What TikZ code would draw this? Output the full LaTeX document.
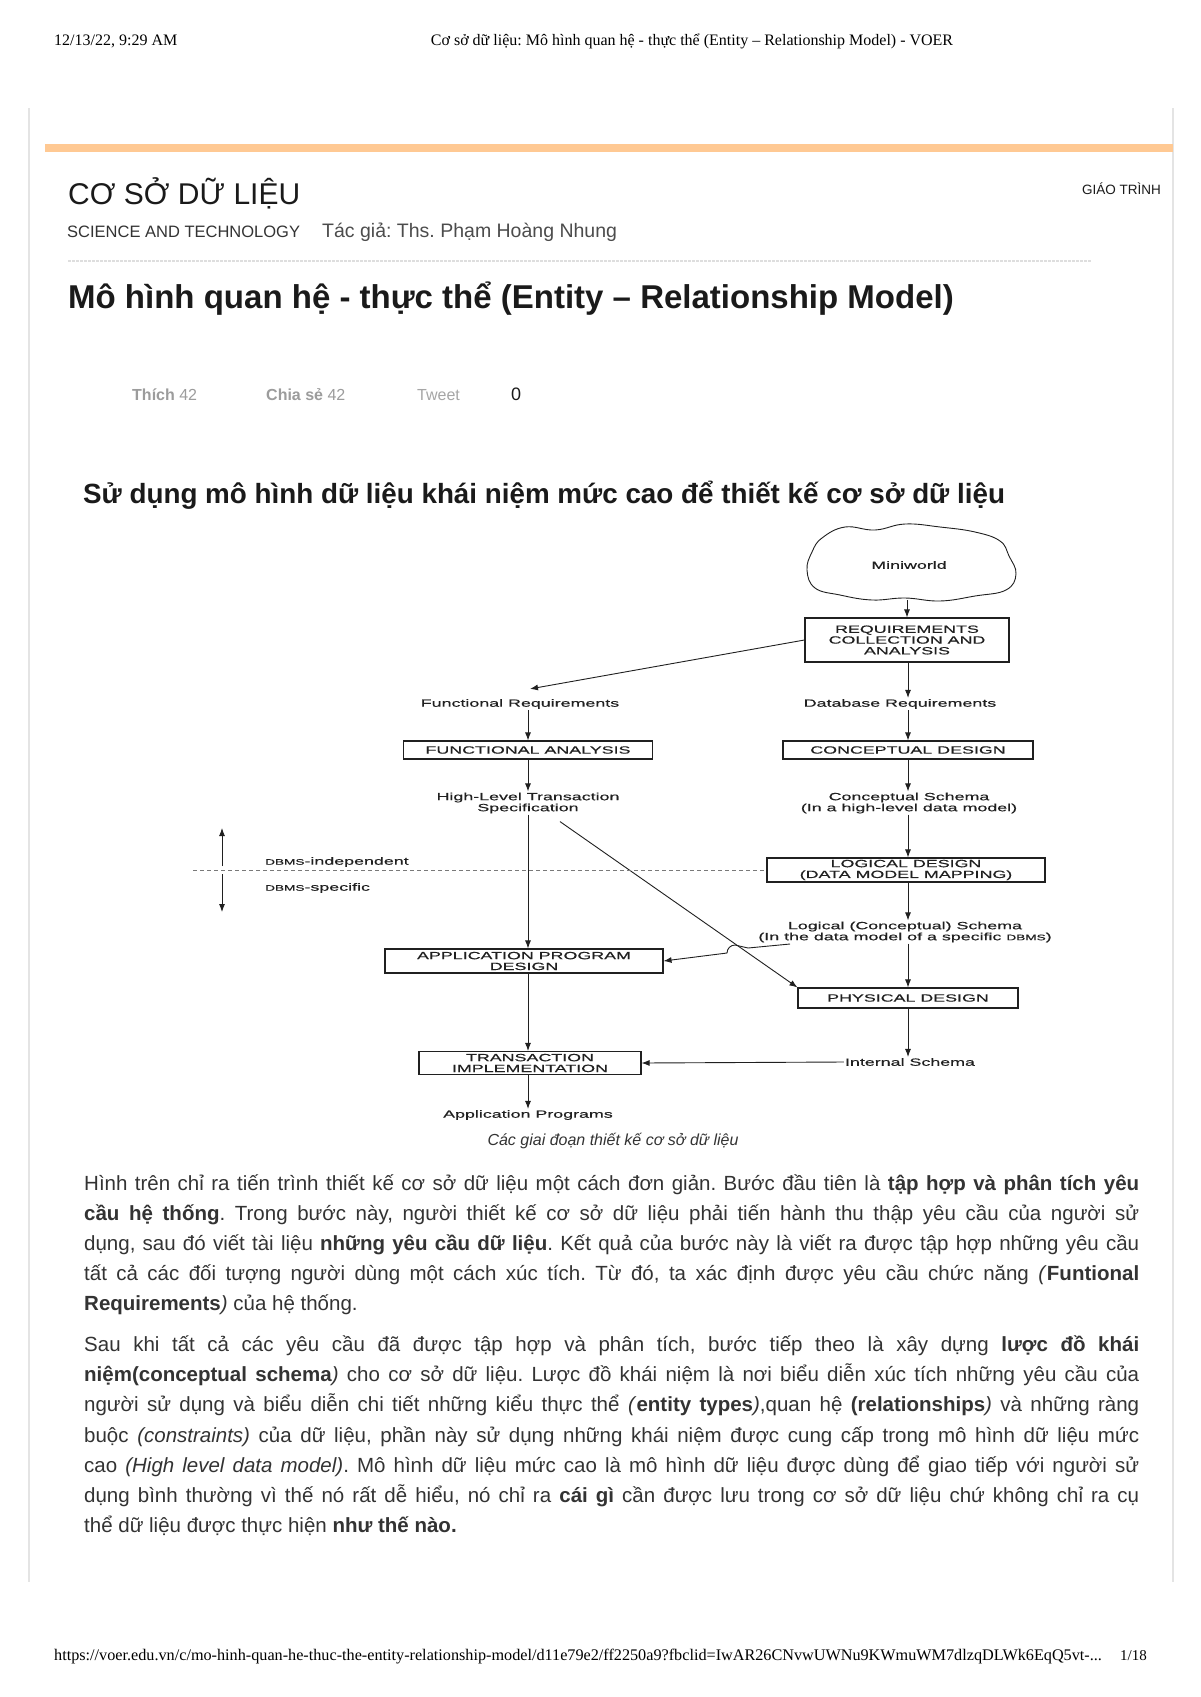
\documentclass[tikz,border=0pt]{standalone}
\usepackage{fontspec}
\setmainfont{Liberation Sans}
\newfontfamily\headfont{Liberation Serif}
\newfontfamily\diagfont[FakeStretch=1.7,FakeBold=0.4]{Liberation Sans}
\usetikzlibrary{arrows.meta,positioning}

\definecolor{pagetext}{HTML}{333333}
\definecolor{darktext}{HTML}{1A1A1A}
\definecolor{peach}{HTML}{FFC993}
\definecolor{framegray}{HTML}{E4E4E4}
\definecolor{likegray}{HTML}{9C9C9C}
\definecolor{scan}{HTML}{202020}

\begin{document}
\frenchspacing
\begin{tikzpicture}[x=1pt, y=-1pt, >=Latex,
  txt/.style={inner sep=0, text=pagetext},
  dbox/.style={draw=scan, line width=1.1pt, inner sep=0, align=center, text=scan,
    font=\diagfont\fontsize{10.5}{10.8}\selectfont},
  dlabel/.style={inner sep=1pt, align=center, text=scan,
    font=\diagfont\fontsize{10.5}{11}\selectfont},
  arr/.style={-{Latex[length=8pt,width=6pt]}, draw=scan, line width=0.9pt}]
\useasboundingbox (0,0) rectangle (1200,1697);
\fill[white] (0,0) rectangle (1200,1697);

% browser header and footer
\node[txt, anchor=base west, text=black, font=\headfont\fontsize{16}{19}\selectfont] (date) at (54,45) {12/13/22, 9:29 AM};
\node[txt, anchor=base, text=black, font=\headfont\fontsize{16}{19}\selectfont] (tab) at (692,45)
  {Cơ sở dữ liệu: Mô hình quan hệ - thực thể (Entity – Relationship Model) - VOER};
\node[txt, anchor=base west, text=black, font=\headfont\fontsize{16.2}{19}\selectfont] (url) at (54,1660)
  {https://voer.edu.vn/c/mo-hinh-quan-he-thuc-the-entity-relationship-model/d11e79e2/ff2250a9?fbclid=IwAR26CNvwUWNu9KWmuWM7dlzqDLWk6EqQ5vt-...};
\node[txt, anchor=base east, text=black, font=\headfont\fontsize{15}{18}\selectfont] (pageno) at (1147,1660) {1/18};

% page frame
\draw[framegray, line width=1.5pt] (29,108) -- (29,1582);
\draw[framegray, line width=1.5pt] (1173,108) -- (1173,1582);
\fill[peach] (45,144) rectangle (1173,152);

% site heading
\node[txt, anchor=base west, text=darktext, font=\fontsize{30}{36}\selectfont] (site) at (68,204) {CƠ SỞ DỮ LIỆU};
\node[txt, anchor=base east, text=darktext, font=\fontsize{13.5}{16}\selectfont] (kind) at (1161,194) {GIÁO TRÌNH};
\node[txt, anchor=base west, font=\fontsize{16.5}{20}\selectfont] (field) at (67,237) {SCIENCE AND TECHNOLOGY};
\node[txt, anchor=base west, text=black!70, font=\fontsize{19.5}{23}\selectfont] (author) at (322,237) {Tác giả: Ths. Phạm Hoàng Nhung};
\draw[black!13, line width=1.5pt, dash pattern=on 3pt off 1pt] (68,261) -- (1091,261);
\node[txt, anchor=base west, text=darktext, font=\bfseries\fontsize{33}{40}\selectfont] (title) at (68,308)
  {Mô hình quan hệ - thực thể (Entity – Relationship Model)};

% share row
\node[txt, anchor=base west, text=likegray, font=\fontsize{16}{19}\selectfont] (like) at (132,400) {\textbf{Thích} 42};
\node[txt, anchor=base west, text=likegray, font=\fontsize{16}{19}\selectfont] (share) at (266,400) {\textbf{Chia sẻ} 42};
\node[txt, anchor=base west, text=black!35, font=\fontsize{16}{19}\selectfont] (tweet) at (417,400) {Tweet};
\node[txt, anchor=base west, text=darktext, font=\fontsize{18}{21}\selectfont] (count) at (511,400) {0};

\node[txt, anchor=base west, text=darktext, font=\bfseries\fontsize{27.8}{34}\selectfont] (sub) at (83,503)
  {Sử dụng mô hình dữ liệu khái niệm mức cao để thiết kế cơ sở dữ liệu};

% diagram
\draw[scan, line width=0.9pt] plot[smooth cycle, tension=0.7] coordinates {(822,538) (845,527) (875,530) (905,524) (940,527) (975,532) (1000,541) (1009,556) (1016,574) (1006,590) (975,596) (940,601) (905,598) (872,600) (840,595) (815,588) (807,570) (812,552)};
\node[dlabel] (mini) at (909,565) {Miniworld};
\coordinate (cloudS) at (907,600);

\node[dbox, minimum width=204, minimum height=44] (req) at (907,640) {REQUIREMENTS\\COLLECTION AND\\ANALYSIS};
\node[dlabel] (fr) at (520,704) {Functional Requirements};
\node[dlabel] (dr) at (900,704) {Database Requirements};
\node[dbox, minimum width=249, minimum height=18] (fa) at (528,750) {FUNCTIONAL ANALYSIS};
\node[dbox, minimum width=250, minimum height=18] (cd) at (908,750) {CONCEPTUAL DESIGN};
\node[dlabel] (hl) at (528,803) {High-Level Transaction\\Specification};
\node[dlabel] (cs) at (909,803) {Conceptual Schema\\(In a high-level data model)};
\node[dbox, minimum width=278, minimum height=24] (ld) at (906,870) {LOGICAL DESIGN\\(DATA MODEL MAPPING)};
\node[dlabel] (ls) at (905,932) {Logical (Conceptual) Schema\\(In the data model of a specific {\fontsize{8}{8}\selectfont DBMS})};
\node[dbox, minimum width=278, minimum height=24] (apd) at (524,961) {APPLICATION PROGRAM\\DESIGN};
\node[dbox, minimum width=220, minimum height=20] (pd) at (908,998) {PHYSICAL DESIGN};
\node[dlabel] (is) at (910,1062) {Internal Schema};
\node[dbox, minimum width=222, minimum height=23] (ti) at (530,1063) {TRANSACTION\\IMPLEMENTATION};
\node[dlabel] (ap) at (528,1115) {Application Programs};
\node[dlabel, anchor=west] (dind) at (264,862) {{\fontsize{8}{8}\selectfont DBMS}-independent};
\node[dlabel, anchor=west] (dspec) at (264,888) {{\fontsize{8}{8}\selectfont DBMS}-specific};
\coordinate (upT) at (222,828);
\coordinate (upB) at (222,866);
\coordinate (dnT) at (222,874);
\coordinate (dnB) at (222,912);
\coordinate (lsout) at (790,944);

\draw[arr] (cloudS) -- (req.north);
\draw[arr] (req.west) -- ([shift={(10,-9)}]fr.north);
\draw[arr] (req.south -| cd.north) -- (dr.north -| cd.north);
\draw[arr] (fr.south -| fa.north) -- (fa.north);
\draw[arr] (dr.south -| cd.north) -- (cd.north);
\draw[arr] (fa.south) -- (fa.south |- hl.north);
\draw[arr] (cd.south) -- (cd.south |- cs.north);
\draw[arr] (cs.south -| cd.south) -- (cd.south |- ld.north);
\draw[arr] (ld.south -| cd.south) -- (ls.north -| cd.south);
\draw[arr] (ls.south -| cd.south) -- (pd.north -| cd.south);
\draw[arr] (pd.south -| cd.south) -- (is.north -| cd.south);
\draw[arr] (hl.south -| fa.south) -- (apd.north -| fa.south);
\draw[arr] ([shift={(32,7)}]hl.south) -- (pd.north west);
\draw[arr] (lsout) -- (748,948) -- (735,945) to[out=180,in=90] (727,953) -- (apd.east);
\draw[arr] (apd.south -| fa.south) -- (ti.north -| fa.south);
\draw[arr] (is.west) -- (ti.east);
\draw[arr] (ti.south -| fa.south) -- (ap.north -| fa.south);
\draw[scan!60, line width=1pt, dash pattern=on 4pt off 3pt] (193,870) -- (ld.west);
\draw[arr] (upB) -- (upT);
\draw[arr] (dnT) -- (dnB);

\node[txt, anchor=base, font=\itshape\fontsize{16}{19}\selectfont] (cap) at (613,1145) {Các giai đoạn thiết kế cơ sở dữ liệu};

% article text
\node[txt, anchor=north west, text width=1055, align=justify, font=\fontsize{20.5}{30}\selectfont] (para1) at (84,1175)
  {Hình trên chỉ ra tiến trình thiết kế cơ sở dữ liệu một cách đơn giản. Bước đầu tiên là \textbf{tập hợp và phân tích yêu}\linebreak
   \textbf{cầu hệ thống}. Trong bước này, người thiết kế cơ sở dữ liệu phải tiến hành thu thập yêu cầu của người sử\linebreak
   dụng, sau đó viết tài liệu \textbf{những yêu cầu dữ liệu}. Kết quả của bước này là viết ra được tập hợp những yêu cầu\linebreak
   tất cả các đối tượng người dùng một cách xúc tích. Từ đó, ta xác định được yêu cầu chức năng \textit{(}\textbf{Funtional}\linebreak
   \textbf{Requirements}\textit{)} của hệ thống.};
\node[txt, anchor=north west, text width=1055, align=justify, font=\fontsize{20.5}{30.2}\selectfont] (para2) at (84,1335.5)
  {Sau khi tất cả các yêu cầu đã được tập hợp và phân tích, bước tiếp theo là xây dựng \textbf{lược đồ khái}\linebreak
   \textbf{niệm(conceptual schema}\textit{)} cho cơ sở dữ liệu. Lược đồ khái niệm là nơi biểu diễn xúc tích những yêu cầu của\linebreak
   người sử dụng và biểu diễn chi tiết những kiểu thực thể \textit{(}\textbf{entity types}\textit{)},quan hệ \textbf{(relationships}\textit{)} và những ràng\linebreak
   buộc \textit{(constraints)} của dữ liệu, phần này sử dụng những khái niệm được cung cấp trong mô hình dữ liệu mức\linebreak
   cao \textit{(High level data model)}. Mô hình dữ liệu mức cao là mô hình dữ liệu được dùng để giao tiếp với người sử\linebreak
   dụng bình thường vì thế nó rất dễ hiểu, nó chỉ ra \textbf{cái gì} cần được lưu trong cơ sở dữ liệu chứ không chỉ ra cụ\linebreak
   thể dữ liệu được thực hiện \textbf{như thế nào.}};
\end{tikzpicture}
\end{document}
